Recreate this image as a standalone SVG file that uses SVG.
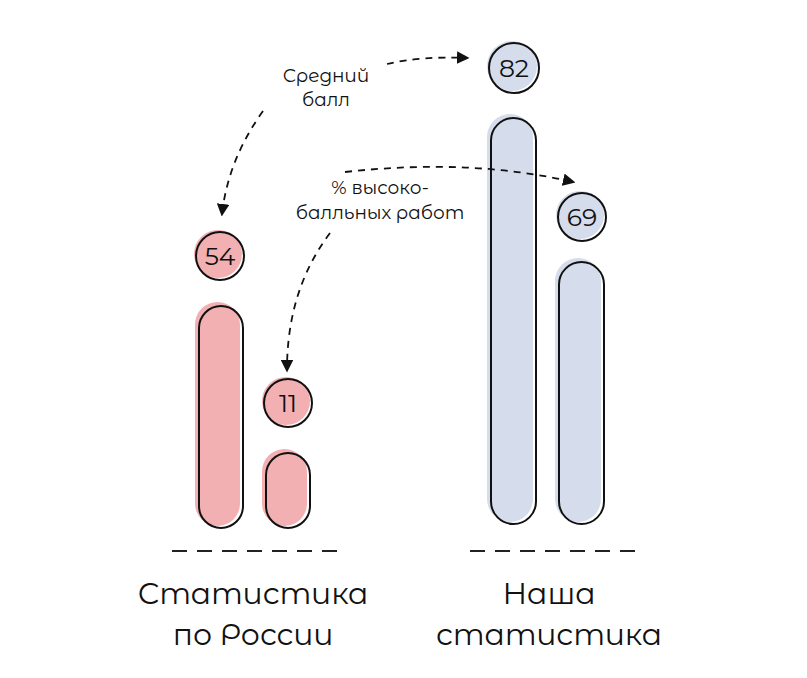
<svg xmlns="http://www.w3.org/2000/svg" width="807" height="678" viewBox="0 0 807 678">
<defs>
<style>
text{font-family:"Montserrat Alternates","Liberation Sans",Arial,sans-serif;fill:#111;text-anchor:middle}
.o{fill:none;stroke:#111;stroke-width:2}
.pk{fill:#f3b0b2}
.bl{fill:#d5dcec}
.c{fill:none;stroke:#111;stroke-width:1.8;stroke-dasharray:7 6}
.d{stroke:#222;stroke-width:1.8;stroke-dasharray:15 10}
.lbl{font-size:18.5px}
.n{font-size:25px}
.big{font-size:30px}
</style>
<marker id="a" viewBox="0 0 10 10" refX="8" refY="5" markerWidth="7" markerHeight="7" orient="auto"><path d="M0,0L10,5L0,10z" fill="#111"/></marker>
</defs>
<rect width="807" height="678" fill="#fff"/>
<g id="bar54"><rect class="pk" x="195" y="302" width="45" height="224" rx="22.5"/><rect class="o" x="199" y="306" width="44" height="222" rx="22"/></g>
<g id="c54"><circle class="pk" cx="218" cy="254" r="24"/><circle class="o" cx="220" cy="256" r="24"/><text class="n" x="220" y="265">54</text></g>
<g id="bar11"><rect class="pk" x="262" y="449" width="45" height="77" rx="22.5"/><rect class="o" x="266" y="453" width="44" height="75" rx="22"/></g>
<g id="c11"><circle class="pk" cx="286" cy="401" r="24"/><circle class="o" cx="288" cy="403" r="24"/><text class="n" x="288" y="412">11</text></g>
<g id="bar82"><rect class="bl" x="487" y="114" width="46" height="408" rx="23"/><rect class="o" x="491" y="118" width="45" height="406" rx="22.5"/></g>
<g id="c82"><circle class="bl" cx="512" cy="66" r="25"/><circle class="o" cx="514" cy="68" r="25"/><text class="n" x="514" y="77">82</text></g>
<g id="bar69"><rect class="bl" x="555" y="258" width="46" height="264" rx="23"/><rect class="o" x="559" y="262" width="45" height="262" rx="22.5"/></g>
<g id="c69"><circle class="bl" cx="580" cy="215" r="24"/><circle class="o" cx="582" cy="217" r="24"/><text class="n" x="582" y="226">69</text></g>
<g id="connectors">
<path class="c" d="M387,64 Q420,56 467,58" marker-end="url(#a)"/>
<path class="c" d="M263,111 Q228,160 222,214" marker-end="url(#a)"/>
<path class="c" d="M345,172 Q470,158 573,182" marker-end="url(#a)"/>
<path class="c" d="M330,233 Q287,290 287,370" marker-end="url(#a)"/>
</g>
<g id="labels">
<text class="lbl" x="326" y="82">Средний</text>
<text class="lbl" x="326" y="106">балл</text>
<text class="lbl" x="380" y="194">% высоко-</text>
<text class="lbl" x="380" y="219">балльных работ</text>
</g>
<line class="d" x1="172" y1="551" x2="340" y2="551"/>
<line class="d" x1="470" y1="551" x2="638" y2="551"/>
<text class="big" x="253" y="604">Статистика</text>
<text class="big" x="253" y="645">по России</text>
<text class="big" x="549" y="604">Наша</text>
<text class="big" x="549" y="645">статистика</text>
</svg>
